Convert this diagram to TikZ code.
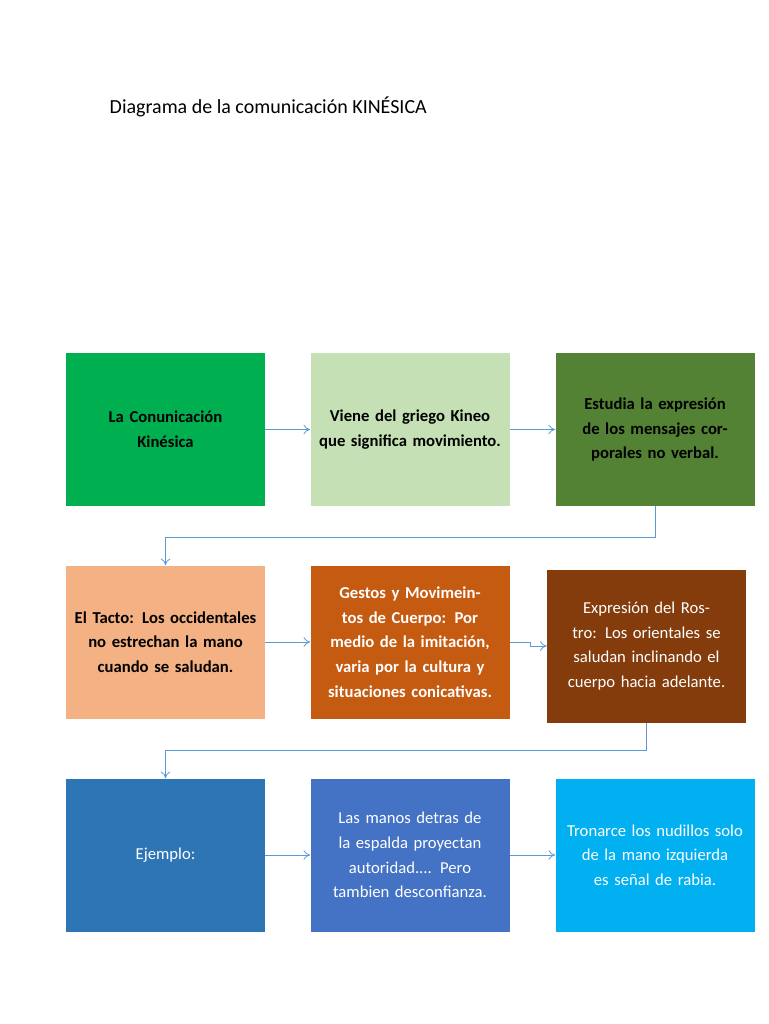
\documentclass[tikz,border=0pt]{standalone}
\usepackage{fontspec}
\setmainfont{Carlito}
\usetikzlibrary{arrows.meta}
\definecolor{g1}{HTML}{00B050}\definecolor{g2}{HTML}{C5E0B4}\definecolor{g3}{HTML}{548235}
\definecolor{o1}{HTML}{F4B183}\definecolor{o2}{HTML}{C55A11}\definecolor{o3}{HTML}{843C0C}
\definecolor{b1}{HTML}{2E75B6}\definecolor{b2}{HTML}{4472C4}\definecolor{b3}{HTML}{00B0F0}
\definecolor{ln}{HTML}{5B9BD5}
\begin{document}
\begin{tikzpicture}[x=0.75pt,y=-0.75pt,
 box/.style={minimum width=149.25pt,minimum height=114.75pt,inner sep=4pt,text width=138pt,align=center,font=\fontsize{12.5}{18.5}\selectfont},
 conn/.style={draw=ln,line width=0.6pt,-{To[length=5pt,width=7pt]}}]
\useasboundingbox (0,0) rectangle (768,1024);
\node[anchor=west,font=\fontsize{15}{18}\selectfont] (title) at (105,107) {Diagrama de la comunicación KINÉSICA};
\node[box,fill=g1,font=\bfseries\fontsize{12.5}{18.5}\selectfont] (a1) at (165.5,429.5) {La Conunicación\\Kinésica\\[18pt]};
\node[box,fill=g2,font=\bfseries\fontsize{12.5}{18.5}\selectfont] (a2) at (410,429.5) {Viene del griego Kineo que significa movimiento.};
\node[box,fill=g3,font=\bfseries\fontsize{12.5}{18.5}\selectfont] (a3) at (655,429.5) {Estudia la expresión de los mensajes corporales no verbal.};
\node[box,fill=o1,font=\bfseries\fontsize{12.5}{18.5}\selectfont] (b1n) at (165.5,642) {El Tacto: Los occidentales no estrechan la mano cuando se saludan.};
\node[box,fill=o2,text=white,font=\bfseries\fontsize{12.5}{18.5}\selectfont] (b2n) at (410,642) {Gestos y Movimeintos de Cuerpo: Por medio de la imitación, varia por la cultura y situaciones conicativas.};
\node[box,fill=o3,text=white] (b3n) at (646.5,646) {Expresión del Rostro: Los orientales se saludan inclinando el cuerpo hacia adelante.};
\node[box,fill=b1,text=white] (c1) at (165.5,855) {Ejemplo:};
\node[box,fill=b2,text=white] (c2) at (410,855) {Las manos detras de la espalda proyectan autoridad.... Pero tambien desconfianza.};
\node[box,fill=b3,text=white] (c3) at (655,855) {Tronarce los nudillos solo de la mano izquierda es señal de rabia.};
\draw[conn] (a1.east) -- (a2.west);
\draw[conn] (a2.east) -- (a3.west);
\draw[conn] (a3.south) -- ++(0,31) -| (b1n.north);
\draw[conn] (b1n.east) -- (b2n.west);
\draw[conn] (b2n.east) -- ++(21,0) |- (b3n.west);
\draw[conn] (b3n.south) -- ++(0,28) -| (c1.north);
\draw[conn] (c1.east) -- (c2.west);
\draw[conn] (c2.east) -- (c3.west);
\end{tikzpicture}
\end{document}
